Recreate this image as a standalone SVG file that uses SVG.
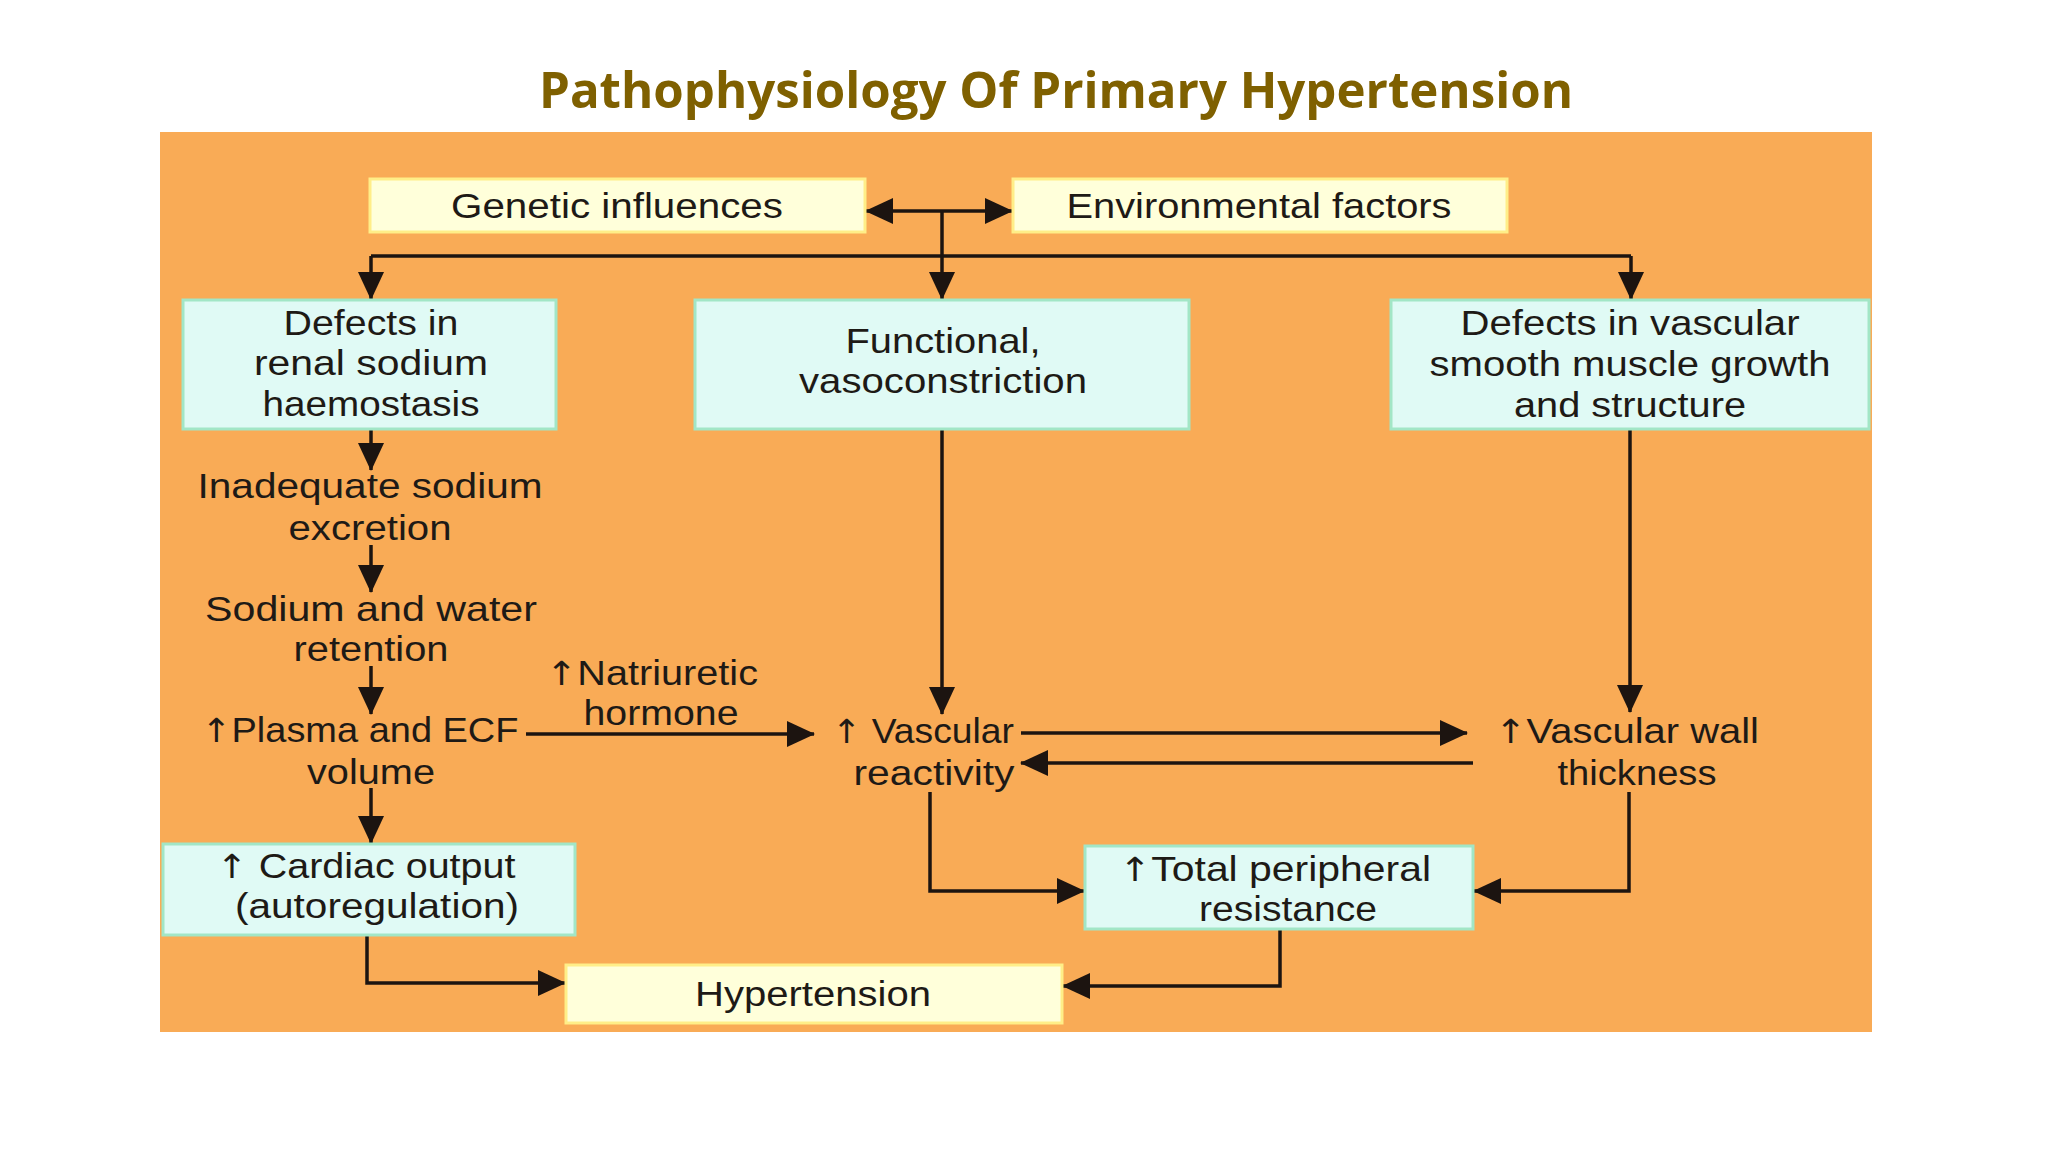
<svg xmlns="http://www.w3.org/2000/svg" width="2048" height="1152" viewBox="0 0 2048 1152">
  <style>
    .title { font-family: "Open Sans", "Liberation Sans", sans-serif; font-weight: 700; font-size: 50px; fill: #7F6000; }
    .t { font-family: "Liberation Sans", Arial, sans-serif; font-size: 35px; fill: #1E1A16; text-anchor: middle; }
    .up { font-size: 33px; font-family: "DejaVu Sans", sans-serif; }
    .ybox { fill: #FFFFDA; stroke: #FFEE88; stroke-width: 3; }
    .cbox { fill: #E0FAF5; stroke: #A2E6C6; stroke-width: 3; }
    .ln { fill: none; stroke: #1C1410; stroke-width: 3.5; }
    .arr { marker-end: url(#ah); }
  </style>
  <defs>
    <marker id="ah" markerUnits="userSpaceOnUse" markerWidth="28" markerHeight="26" refX="27" refY="13" orient="auto">
      <path d="M0,0 L28,13 L0,26 Z" fill="#1C1410"/>
    </marker>
    <marker id="ahs" markerUnits="userSpaceOnUse" markerWidth="28" markerHeight="26" refX="27" refY="13" orient="auto-start-reverse">
      <path d="M0,0 L28,13 L0,26 Z" fill="#1C1410"/>
    </marker>
  </defs>

  <rect x="0" y="0" width="2048" height="1152" fill="#FFFFFF"/>
  <text class="title" x="1056" y="108" text-anchor="middle" textLength="1034" lengthAdjust="spacingAndGlyphs">Pathophysiology Of Primary Hypertension</text>
  <rect x="160" y="132" width="1712" height="900" fill="#F9AB56"/>

  <g id="connectors">
    <line class="ln" x1="866" y1="211" x2="1012" y2="211" marker-start="url(#ahs)" marker-end="url(#ahs)"/>
    <line class="ln arr" x1="942" y1="211" x2="942" y2="299"/>
    <line class="ln" x1="371" y1="256" x2="1631" y2="256"/>
    <line class="ln arr" x1="371" y1="256" x2="371" y2="299"/>
    <line class="ln arr" x1="1631" y1="256" x2="1631" y2="299"/>
    <line class="ln arr" x1="371" y1="429" x2="371" y2="470"/>
    <line class="ln arr" x1="371" y1="545" x2="371" y2="592"/>
    <line class="ln arr" x1="371" y1="666" x2="371" y2="714"/>
    <line class="ln arr" x1="371" y1="788" x2="371" y2="843"/>
    <path class="ln arr" d="M367,935 V983 H565"/>
    <path class="ln arr" d="M1280,929 V986 H1063"/>
    <line class="ln arr" x1="526" y1="734" x2="814" y2="734"/>
    <line class="ln arr" x1="942" y1="429" x2="942" y2="714"/>
    <line class="ln arr" x1="1021" y1="733" x2="1467" y2="733"/>
    <line class="ln arr" x1="1473" y1="763" x2="1021" y2="763"/>
    <line class="ln arr" x1="1630" y1="429" x2="1630" y2="712"/>
    <path class="ln arr" d="M930,792 V891 H1084"/>
    <path class="ln arr" d="M1629,792 V891 H1474"/>
  </g>

  <g id="genetic">
    <rect class="ybox" x="370" y="179" width="495" height="53"/>
    <text class="t" x="617" y="218" textLength="332" lengthAdjust="spacingAndGlyphs">Genetic influences</text>
  </g>
  <g id="environmental">
    <rect class="ybox" x="1013" y="179" width="494" height="53"/>
    <text class="t" x="1259" y="218" textLength="385" lengthAdjust="spacingAndGlyphs">Environmental factors</text>
  </g>
  <g id="renal">
    <rect class="cbox" x="183" y="300" width="373" height="129"/>
    <text class="t" x="371" y="335" textLength="175" lengthAdjust="spacingAndGlyphs">Defects in</text>
    <text class="t" x="371" y="375" textLength="234" lengthAdjust="spacingAndGlyphs">renal sodium</text>
    <text class="t" x="371" y="416" textLength="217" lengthAdjust="spacingAndGlyphs">haemostasis</text>
  </g>
  <g id="functional">
    <rect class="cbox" x="695" y="300" width="494" height="129"/>
    <text class="t" x="943" y="353" textLength="195" lengthAdjust="spacingAndGlyphs">Functional,</text>
    <text class="t" x="943" y="393" textLength="288" lengthAdjust="spacingAndGlyphs">vasoconstriction</text>
  </g>
  <g id="smooth-muscle">
    <rect class="cbox" x="1391" y="300" width="478" height="129"/>
    <text class="t" x="1630" y="335" textLength="339" lengthAdjust="spacingAndGlyphs">Defects in vascular</text>
    <text class="t" x="1630" y="376" textLength="401" lengthAdjust="spacingAndGlyphs">smooth muscle growth</text>
    <text class="t" x="1630" y="417" textLength="232" lengthAdjust="spacingAndGlyphs">and structure</text>
  </g>
  <g id="inadequate">
    <text class="t" x="370" y="498" textLength="345" lengthAdjust="spacingAndGlyphs">Inadequate sodium</text>
    <text class="t" x="370" y="540" textLength="163" lengthAdjust="spacingAndGlyphs">excretion</text>
  </g>
  <g id="retention">
    <text class="t" x="371" y="621" textLength="332" lengthAdjust="spacingAndGlyphs">Sodium and water</text>
    <text class="t" x="371" y="661" textLength="155" lengthAdjust="spacingAndGlyphs">retention</text>
  </g>
  <g id="plasma">
    <text class="t" x="360" y="742" textLength="317" lengthAdjust="spacingAndGlyphs"><tspan class="up">↑</tspan>Plasma and ECF</text>
    <text class="t" x="371" y="784" textLength="128" lengthAdjust="spacingAndGlyphs">volume</text>
  </g>
  <g id="natriuretic">
    <text class="t" x="652" y="685" textLength="212" lengthAdjust="spacingAndGlyphs"><tspan class="up">↑</tspan>Natriuretic</text>
    <text class="t" x="661" y="725" textLength="155" lengthAdjust="spacingAndGlyphs">hormone</text>
  </g>
  <g id="vascular-reactivity">
    <text class="t" x="923" y="743" textLength="182" lengthAdjust="spacingAndGlyphs"><tspan class="up">↑</tspan> Vascular</text>
    <text class="t" x="934" y="785" textLength="161" lengthAdjust="spacingAndGlyphs">reactivity</text>
  </g>
  <g id="wall-thickness">
    <text class="t" x="1627" y="743" textLength="264" lengthAdjust="spacingAndGlyphs"><tspan class="up">↑</tspan>Vascular wall</text>
    <text class="t" x="1637" y="785" textLength="159" lengthAdjust="spacingAndGlyphs">thickness</text>
  </g>
  <g id="cardiac">
    <rect class="cbox" x="163" y="844" width="412" height="91"/>
    <text class="t" x="366" y="878" textLength="299" lengthAdjust="spacingAndGlyphs"><tspan class="up">↑</tspan> Cardiac output</text>
    <text class="t" x="377" y="918" textLength="284" lengthAdjust="spacingAndGlyphs">(autoregulation)</text>
  </g>
  <g id="tpr">
    <rect class="cbox" x="1085" y="846" width="388" height="83"/>
    <text class="t" x="1275" y="881" textLength="312" lengthAdjust="spacingAndGlyphs"><tspan class="up">↑</tspan>Total peripheral</text>
    <text class="t" x="1288" y="921" textLength="178" lengthAdjust="spacingAndGlyphs">resistance</text>
  </g>
  <g id="hypertension">
    <rect class="ybox" x="566" y="965" width="496" height="58"/>
    <text class="t" x="813" y="1006" textLength="236" lengthAdjust="spacingAndGlyphs">Hypertension</text>
  </g>
</svg>
